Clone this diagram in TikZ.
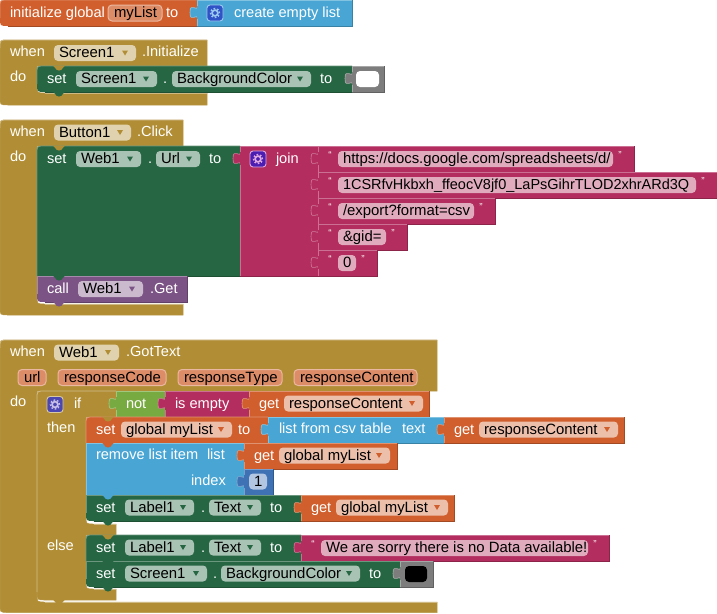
\documentclass[tikz,border=0pt]{standalone}
\usepackage{fontspec}
\setmainfont{Liberation Sans}
\definecolor{gold}{HTML}{B18E35}
\definecolor{orange}{HTML}{D05F2D}
\definecolor{lblue}{HTML}{49A6D4}
\definecolor{green}{HTML}{266643}
\definecolor{pink}{HTML}{B32D5E}
\definecolor{purple}{HTML}{7C5385}
\definecolor{grey}{HTML}{7D7D7D}
\definecolor{logic}{HTML}{77AB41}
\definecolor{math}{HTML}{3F71B5}
\definecolor{icA}{HTML}{2F52C6}
\definecolor{icAb}{HTML}{9CC8F0}
\definecolor{icB}{HTML}{4B1DB0}
\definecolor{icBb}{HTML}{E0A8E0}
\definecolor{icC}{HTML}{4B46B0}
\definecolor{icCb}{HTML}{D8C8A0}
\definecolor{icCg}{HTML}{C8C0E8}
\newcount\tn
\tikzset{
  lbl/.style={anchor=base west,inner sep=0pt,outer sep=0pt,text=white,font=\fontsize{14.6}{16}\selectfont},
  fld/.style={lbl,text=black,font=\fontsize{14.9}{16}\selectfont},
  qt/.style={inner sep=0pt,outer sep=0pt,text=white,font=\fontsize{10}{12}\selectfont},
  goldb/.style={fill=gold,draw=gold!90!white,line width=.5pt},
  hilite/.style={gold!62!white,line width=.8pt},
}
% text node: x, centre y, text
\newcommand{\T}[3]{\global\advance\tn by 1 \node[lbl] (t\the\tn) at (#1,#2+4.4) {#3};}
% field: x0,x1,yc,colour,text
\newcommand{\F}[5]{\fill[#4!40!white,rounded corners=4pt] (#1,#3-8) rectangle (#2,#3+8);
  \global\advance\tn by 1 \node[fld] (t\the\tn) at (#1+5,#3+4.6) {#5};}
% dropdown field
\newcommand{\D}[5]{\F{#1}{#2}{#3}{#4}{#5}\fill[#4] (#2-14,#3-2.5) -- (#2-8,#3-2.5) -- (#2-11,#3+2.5) -- cycle;}
% variable name field
\newcommand{\V}[4]{\draw[orange!45!white,fill=orange!72!white,rounded corners=4pt,line width=1pt] (#1,#3-8) rectangle (#2,#3+8);
  \global\advance\tn by 1 \node[fld] (t\the\tn) at (#1+6,#3+4.6) {#4};}
% block: colour,x0,y0,x1,y1,top-left radius,bottom-left radius
\newcommand{\B}[7]{%
  \fill[#1] (#2+#6,#3) -- (#4,#3) -- (#4,#5) -- (#2+#7,#5) .. controls (#2,#5) .. (#2,#5-#7) -- (#2,#3+#6) .. controls (#2,#3) .. (#2+#6,#3) -- cycle;
  \draw[#1!68!white,line width=.8pt] (#2,#5-#7) -- (#2,#3+#6) .. controls (#2,#3) .. (#2+#6,#3) -- (#4,#3);
  \draw[#1!78!black,line width=.6pt] (#4,#3) -- (#4,#5) -- (#2+#7,#5);}
% value tab: colour,x,y0
\newcommand{\Tb}[3]{\draw[#1!62!white,fill=#1,line width=.6pt] (#2+.5,#3+6) .. controls (#2+.5,#3+13) and (#2-7,#3+1) .. (#2-7,#3+12.5) .. controls (#2-7,#3+24) and (#2+.5,#3+12) .. (#2+.5,#3+19);
  \fill[#1] (#2,#3+6) rectangle (#2+1.5,#3+19);}
% statement bump: colour,x0,y
\newcommand{\Bp}[3]{\fill[#1] (#2+15,#3-.5) .. controls (#2+18,#3-.5) and (#2+18,#3+4.5) .. (#2+22,#3+4.5) .. controls (#2+26,#3+4.5) and (#2+26,#3-.5) .. (#2+29,#3-.5) -- cycle;}
% mutator icon: x0,yc,fill,border,gear colour
\newcommand{\G}[5]{\draw[fill=#3,draw=#4,line width=.9pt,rounded corners=3pt] (#1,#2-8) rectangle (#1+16,#2+8);
  \draw[#5,line width=1.7pt] (#1+8,#2) circle (2.9pt);
  \draw[#5,line width=1.3pt,dash pattern=on 1.6pt off 1.9pt] (#1+8,#2) circle (4.6pt);}
% hat block: x1,ytop,ymid,yconcave,ybar,ybot
\newcommand{\Hat}[5]{\draw[goldb] (8,#2) -- (#1,#2) -- (#1,#3) -- (37,#3) -- (37,#4-8) .. controls (37,#4) .. (45,#4) -- (#1,#4) -- (#1,#5) -- (8,#5) .. controls (0,#5) .. (0,#5-8) -- (0,#2+8) .. controls (0,#2) .. (8,#2) -- cycle;
  \draw[hilite] (0,#2+8) .. controls (0,#2) .. (8,#2) -- (#1,#2);
  \draw[hilite] (45,#4) -- (#1,#4);}
\begin{document}
\begin{tikzpicture}[x=1pt,y=-1pt]
\useasboundingbox[fill=white] (0,0) rectangle (717,613);

% ---------- initialize global
\B{orange}{0}{0}{197}{26}{8}{8}
\T{10}{13}{initialize global}
\V{108}{162}{13}{myList}
\T{166}{13}{to}
\B{lblue}{197}{0}{352}{26}{0}{0}
\Tb{lblue}{197}{0}
\G{207}{13}{icA}{icAb}{icAb}
\T{234}{13}{create empty list}

% ---------- Screen1.Initialize
\Hat{207}{40}{66}{93}{105}
\T{10}{52.5}{when}
\D{54}{136}{53}{gold}{Screen1}
\T{142}{52.5}{.Initialize}
\T{10}{77}{do}
\B{green}{37}{66}{352}{92}{8}{8}
\Bp{gold}{37}{66}
\Bp{green}{37}{92}
\T{47}{79}{set}
\D{76}{157}{79}{green}{Screen1}
\T{163}{79}{.}
\D{172}{311}{79}{green}{BackgroundColor}
\T{320}{79}{to}
\B{grey}{352}{66}{384}{92}{0}{0}
\Tb{grey}{352}{66}
\fill[white,rounded corners=4pt] (356,71) rectangle (379,87);

% ---------- Button1.Click
\Hat{183}{120}{146}{304}{315}
\T{10}{132}{when}
\D{54}{131}{132.5}{gold}{Button1}
\T{137}{132}{.Click}
\T{10}{157}{do}
\B{green}{37}{146}{240}{276}{8}{0}
\Bp{gold}{37}{146}
\T{47}{159}{set}
\D{76}{141}{159}{green}{Web1}
\T{148}{159}{.}
\D{156}{200}{159}{green}{Url}
\T{209}{159}{to}
\B{pink}{240}{146}{318}{276}{0}{0}
\Tb{pink}{240}{146}
\G{250}{159}{icB}{icBb}{icBb}
\T{276}{159}{join}
% text rows
\B{pink}{318}{146}{634}{172}{0}{0}\Tb{pink}{318}{146}
\node[qt] (q1a) at (330,155) {“}; \F{338}{613}{159}{pink}{https://docs.google.com/spreadsheets/d/} \node[qt] (q1b) at (620,155) {”};
\B{pink}{318}{172}{717}{198}{0}{0}\Tb{pink}{318}{172}
\node[qt] (q2a) at (330,181) {“}; \F{338}{696}{185}{pink}{\fontsize{14.5}{16}\selectfont 1CSRfvHkbxh\_ffeocV8jf0\_LaPsGihrTLOD2xhrARd3Q} \node[qt] (q2b) at (703,181) {”};
\B{pink}{318}{198}{495}{224}{0}{0}\Tb{pink}{318}{198}
\node[qt] (q3a) at (330,207) {“}; \F{338}{474}{211}{pink}{/export?format=csv} \node[qt] (q3b) at (481,207) {”};
\B{pink}{318}{224}{407}{250}{0}{0}\Tb{pink}{318}{224}
\node[qt] (q4a) at (330,233) {“}; \F{338}{386}{237}{pink}{\&gid=} \node[qt] (q4b) at (393,233) {”};
\B{pink}{318}{250}{377}{276}{0}{0}\Tb{pink}{318}{250}
\node[qt] (q5a) at (330,259) {“}; \F{338}{356}{263}{pink}{0} \node[qt] (q5b) at (363,259) {”};
% call
\B{purple}{37}{276}{187}{302}{0}{8}
\Bp{green}{37}{276}
\Bp{purple}{37}{302}
\T{47}{289}{call}
\D{78}{143}{289}{purple}{Web1}
\T{150}{289}{.Get}

% ---------- Web1.GotText
\Hat{437}{340}{391}{602}{612.5}
\T{10}{352}{when}
\D{54}{119}{352.5}{gold}{Web1}
\T{126}{352}{.GotText}
\V{18}{46}{377.5}{url}
\V{58}{166}{377.5}{responseCode}
\V{178}{282}{377.5}{responseType}
\V{294}{417}{377.5}{responseContent}
\T{10}{402}{do}
% if block
\draw[goldb] (45,391) -- (116,391) -- (116,417) -- (86,417) -- (86,516) .. controls (86,524) .. (94,524) -- (116,524) -- (116,535) -- (86,535) -- (86,581) .. controls (86,589) .. (94,589) -- (116,589) -- (116,600) -- (45,600) .. controls (37,600) .. (37,592) -- (37,399) .. controls (37,391) .. (45,391) -- cycle;
\draw[hilite] (37,592) -- (37,399) .. controls (37,391) .. (45,391) -- (116,391);
\draw[hilite] (94,524) -- (116,524) (94,589) -- (116,589);
\Bp{gold}{37}{600}
\G{47}{404.5}{icC}{icCb}{icCg}
\T{74}{404}{if}
\T{47}{428}{then}
\T{47}{546}{else}
% not / is empty / get
\B{logic}{116}{391}{165}{417}{0}{0}\Tb{logic}{116}{391}
\T{126}{404}{not}
\B{pink}{165}{391}{249}{417}{0}{0}\Tb{pink}{165}{391}
\T{175}{404}{is empty}
\B{orange}{249}{391}{429}{417}{0}{0}\Tb{orange}{249}{391}
\T{259}{404}{get}
\D{284}{423}{403.5}{orange}{responseContent}
% set global
\B{orange}{86}{417}{268}{443}{8}{0}
\Bp{gold}{86}{417}
\T{96}{430}{set}
\D{121}{232}{429.5}{orange}{global myList}
\T{238}{430}{to}
\B{lblue}{268}{417}{444}{443}{0}{0}\Tb{lblue}{268}{417}
\T{279}{429}{list from csv table}
\T{402}{429}{text}
\B{orange}{444}{417}{624}{443}{0}{0}\Tb{orange}{444}{417}
\T{454}{430}{get}
\D{479}{618}{429.5}{orange}{responseContent}
% remove list item
\B{lblue}{86}{443}{244}{495}{0}{0}
\Bp{orange}{86}{443}
\T{96}{455}{remove list item}
\T{207}{455}{list}
\T{191}{481}{index}
\B{orange}{244}{443}{397}{469}{0}{0}\Tb{orange}{244}{443}
\T{254}{456}{get}
\D{279}{390}{455.5}{orange}{global myList}
\B{math}{244}{469}{273}{495}{0}{0}\Tb{math}{244}{469}
\F{249}{267}{481.5}{math}{1}
% set Label1 (then)
\B{green}{86}{495}{301}{521}{0}{8}
\Bp{lblue}{86}{495}
\Bp{green}{86}{521}
\T{96}{508}{set}
\D{125}{194}{507.5}{green}{Label1}
\T{201}{508}{.}
\D{209}{261}{507.5}{green}{Text}
\T{270}{508}{to}
\B{orange}{301}{495}{454}{521}{0}{0}\Tb{orange}{301}{495}
\T{311}{508}{get}
\D{336}{448}{507.5}{orange}{global myList}
% else
\B{green}{86}{535}{301}{561}{8}{0}
\Bp{gold}{86}{535}
\T{96}{548}{set}
\D{125}{194}{547.5}{green}{Label1}
\T{201}{548}{.}
\D{209}{261}{547.5}{green}{Text}
\T{270}{548}{to}
\B{pink}{301}{535}{609}{561}{0}{0}\Tb{pink}{301}{535}
\node[qt] (q6a) at (313,544) {“}; \F{321}{588}{548}{pink}{We are sorry there is no Data available!} \node[qt] (q6b) at (595,544) {”};
\B{green}{86}{561}{400}{587}{0}{8}
\Bp{green}{86}{561}
\Bp{green}{86}{587}
\T{96}{574}{set}
\D{125}{207}{573.5}{green}{Screen1}
\T{213}{574}{.}
\D{221}{360}{573.5}{green}{BackgroundColor}
\T{369}{574}{to}
\B{grey}{400}{561}{433}{587}{0}{0}\Tb{grey}{400}{561}
\fill[black,rounded corners=4pt] (405,566) rectangle (427,582);
\end{tikzpicture}
\end{document}
